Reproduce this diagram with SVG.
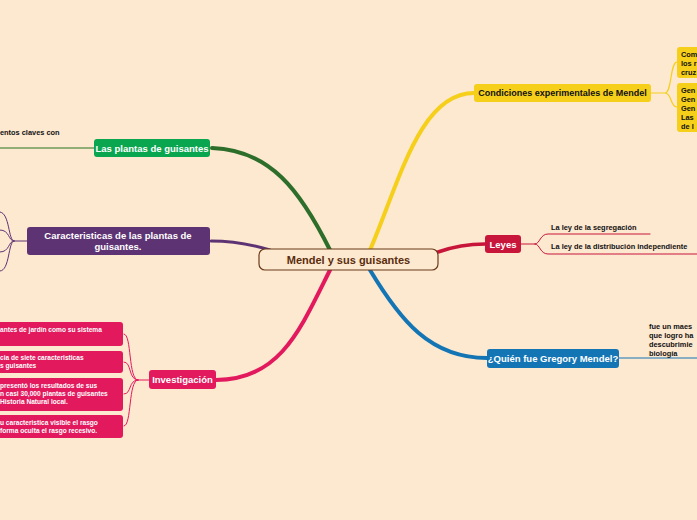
<svg xmlns="http://www.w3.org/2000/svg" width="697" height="520" viewBox="0 0 697 520">
<style>
.t{font-family:"Liberation Sans",Arial,sans-serif;font-weight:bold}
.w{fill:#fff;font-size:9.5px}
.p{fill:#fff;font-size:6.6px}
.s{fill:#111;font-size:7.4px}
.c{fill:none;stroke-linecap:round}
</style>
<rect width="697" height="520" fill="#fde8d0"/>
<g id="connectors">
<path class="c" d="M330,250 C300,190 270,150 212,148" stroke="#2d6e2a" stroke-width="4"/>
<path class="c" d="M94,148 L0,148" stroke="#6e9a5a" stroke-width="1.3"/>
<path class="c" d="M270,250 C250,244 230,241 211,241" stroke="#5e3373" stroke-width="3"/>
<path class="c" d="M27,241 L14,241 M14,241 C8,241 10,213 0,212 M14,241 C8,241 10,230 0,230 M14,241 C8,241 10,252 0,252 M14,241 C8,241 10,271 0,271" stroke="#5e3373" stroke-width="1"/>
<path class="c" d="M330,270 C300,330 280,380 216,380" stroke="#e3195e" stroke-width="4"/>
<path class="c" d="M149,380 L138,380 M138,380 C128,380 132,334 124,334 M138,380 C128,380 132,362 124,362 M138,380 C128,380 132,394 124,394 M138,380 C128,380 132,426 124,426" stroke="#e3195e" stroke-width="1"/>
<path class="c" d="M370,250 C400,180 420,93 474,93" stroke="#f5cf1a" stroke-width="4"/>
<path class="c" d="M651,93 L665,93 M665,93 C672,93 670,62 677,62 M665,93 C672,93 670,107 677,107" stroke="#f5cf1a" stroke-width="1.2"/>
<path class="c" d="M438,252 C455,246 470,244 485,244" stroke="#c8153a" stroke-width="3.5"/>
<path class="c" d="M521,244 L535,244 M535,244 C540,244 540,234 548,234 L650,234 M535,244 C540,244 540,254 548,254 L697,254" stroke="#c8153a" stroke-width="1"/>
<path class="c" d="M370,270 C400,320 430,358 487,358" stroke="#1475b5" stroke-width="4"/>
<path class="c" d="M619,358 L697,358" stroke="#1475b5" stroke-width="1"/>
</g>
<g id="center">
<rect x="259" y="249" width="179" height="21" rx="6" fill="#fde8d0" stroke="#6b3a1a" stroke-width="1.2"/>
<text class="t" x="348.5" y="263.5" text-anchor="middle" font-size="11" fill="#5a2d0c">Mendel y sus guisantes</text>
</g>
<g id="plantas">
<rect x="94" y="139" width="116" height="18" rx="3" fill="#0aa54f"/>
<text class="t w" x="152" y="151.5" text-anchor="middle">Las plantas de guisantes</text>
<text class="t s" x="0" y="135">entos claves con</text>
</g>
<g id="caracteristicas">
<rect x="27" y="227" width="183" height="28" rx="3" fill="#5e3373"/>
<text class="t w" x="118" y="239" text-anchor="middle">Caracteristicas de las plantas de</text>
<text class="t w" x="118" y="250" text-anchor="middle">guisantes.</text>
</g>
<g id="investigacion">
<rect x="149" y="370" width="67" height="19" rx="3" fill="#e3195e"/>
<text class="t w" x="182.5" y="383" text-anchor="middle">Investigación</text>
</g>
<g id="inv1"><rect x="-5" y="322" width="128" height="24" rx="3" fill="#e3195e"/><text class="t p" x="0" y="332">antes de jardín como su sistema</text></g>
<g id="inv2"><rect x="-5" y="351" width="128" height="22" rx="3" fill="#e3195e"/><text class="t p" x="0" y="360">cia de siete caracteristicas</text><text class="t p" x="0" y="368">s guisantes</text></g>
<g id="inv3"><rect x="-5" y="378" width="128" height="33" rx="3" fill="#e3195e"/><text class="t p" x="0" y="388">presentó los resultados de sus</text><text class="t p" x="0" y="396">n casi 30,000 plantas de guisantes</text><text class="t p" x="0" y="404">Historia Natural local.</text></g>
<g id="inv4"><rect x="-5" y="415" width="128" height="23" rx="3" fill="#e3195e"/><text class="t p" x="0" y="425">u caracteristica visible el rasgo</text><text class="t p" x="0" y="433">forma oculta el rasgo recesivo.</text></g>
<g id="condiciones">
<rect x="474" y="84" width="177" height="18" rx="3" fill="#f5cf1a"/>
<text class="t" x="562.5" y="96" text-anchor="middle" font-size="9" fill="#111">Condiciones experimentales de Mendel</text>
</g>
<g id="cond1"><rect x="677" y="47" width="30" height="31" rx="3" fill="#f5cf1a"/><text class="t s" x="681" y="57">Com</text><text class="t s" x="681" y="66">los r</text><text class="t s" x="681" y="75">cruz</text></g>
<g id="cond2"><rect x="677" y="83" width="30" height="49" rx="3" fill="#f5cf1a"/><text class="t s" x="681" y="93">Gen</text><text class="t s" x="681" y="102">Gen</text><text class="t s" x="681" y="111">Gen</text><text class="t s" x="681" y="120">Las</text><text class="t s" x="681" y="129">de l</text></g>
<g id="leyes">
<rect x="485" y="235" width="36" height="18" rx="3" fill="#c8153a"/>
<text class="t w" x="503" y="247.5" text-anchor="middle">Leyes</text>
<text class="t s" x="551" y="230">La ley de la segregación</text>
<text class="t s" x="551" y="249">La ley de la distribución independiente</text>
</g>
<g id="quien">
<rect x="487" y="349" width="132" height="19" rx="3" fill="#1475b5"/>
<text class="t w" x="553" y="362" text-anchor="middle">¿Quién fue Gregory Mendel?</text>
<text class="t s" x="649" y="329">fue  un maes</text>
<text class="t s" x="649" y="338">que logro ha</text>
<text class="t s" x="649" y="347">descubrimie</text>
<text class="t s" x="649" y="356">biología</text>
</g>
</svg>
